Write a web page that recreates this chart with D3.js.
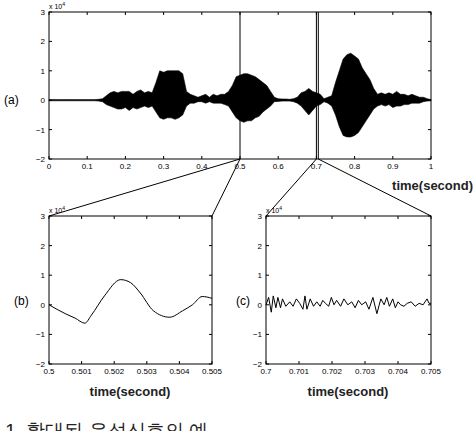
<!DOCTYPE html>
<html><head><meta charset="utf-8">
<script src="https://cdn.jsdelivr.net/npm/d3@7"></script>
<style>body{margin:0;background:#fff}svg{display:block;font-family:"Liberation Sans",Arial,sans-serif}</style>
</head><body><svg id="c" width="474" height="431"></svg>
<script>
// envelope of speech signal (x10^4), t = 0..1 step 0.01
const envUpper = [0.02,0.02,0.02,0.02,0.02,0.02,0.02,0.02,0.02,0.02,0.02,0.02,0.02,0.03,0.05,0.15,0.25,0.3,0.25,0.3,0.3,0.3,0.2,0.3,0.35,0.25,0.3,0.25,0.6,1.0,0.95,1.0,1.0,1.0,1.0,0.9,0.3,0.2,0.15,0.1,0.15,0.2,0.1,0.2,0.15,0.2,0.2,0.3,0.5,0.8,0.85,0.9,0.9,0.85,0.8,0.7,0.6,0.5,0.3,0.1,0.05,0.04,0.04,0.03,0.05,0.1,0.25,0.3,0.4,0.3,0.25,0.2,0.05,0.1,0.15,0.6,1.0,1.4,1.55,1.6,1.5,1.4,1.1,0.9,0.7,0.4,0.2,0.25,0.2,0.25,0.2,0.3,0.2,0.2,0.15,0.2,0.15,0.1,0.1,0.05,0.02];
const envLower = [-0.02,-0.02,-0.02,-0.02,-0.02,-0.02,-0.02,-0.02,-0.02,-0.02,-0.02,-0.02,-0.02,-0.03,-0.05,-0.15,-0.2,-0.25,-0.3,-0.3,-0.25,-0.35,-0.25,-0.3,-0.25,-0.2,-0.25,-0.2,-0.4,-0.6,-0.65,-0.6,-0.6,-0.65,-0.6,-0.5,-0.2,-0.1,-0.1,-0.05,-0.05,-0.1,-0.05,-0.1,-0.1,-0.1,-0.15,-0.2,-0.4,-0.6,-0.7,-0.75,-0.7,-0.7,-0.6,-0.55,-0.4,-0.3,-0.2,-0.05,-0.04,-0.03,-0.03,-0.03,-0.05,-0.1,-0.2,-0.35,-0.5,-0.35,-0.2,-0.15,-0.05,-0.1,-0.2,-0.5,-0.9,-1.2,-1.25,-1.25,-1.2,-1.1,-0.9,-0.7,-0.5,-0.3,-0.2,-0.15,-0.2,-0.15,-0.25,-0.2,-0.2,-0.15,-0.15,-0.1,-0.1,-0.1,-0.05,-0.03,-0.02];
const bTime = [0.5,0.5005,0.5008,0.5011,0.5013,0.5017,0.5022,0.5025,0.5028,0.5032,0.5037,0.5041,0.5044,0.5047,0.505];
const bVal  = [0,-0.3,-0.45,-0.62,-0.35,0.3,0.85,0.75,0.4,-0.2,-0.42,-0.2,0.0,0.28,0.22];
const cTime = [0.7,0.70008,0.70016,0.70022,0.7003,0.70036,0.70044,0.7005,0.7006,0.70072,0.70082,0.70092,0.70102,0.70112,0.70118,0.70124,0.70134,0.70144,0.70154,0.70164,0.70172,0.7018,0.7019,0.70198,0.70206,0.70214,0.70226,0.70236,0.70248,0.7026,0.7027,0.7028,0.7029,0.70302,0.70312,0.70324,0.70336,0.70348,0.70358,0.70366,0.70374,0.70384,0.70392,0.704,0.70408,0.70418,0.70428,0.7044,0.70452,0.70464,0.70476,0.70488,0.70494,0.705];
const cVal  = [0,0.25,-0.25,0.3,-0.1,0.25,-0.1,0.2,-0.05,0.1,-0.05,0.2,0.05,-0.15,0.3,-0.15,0.2,-0.05,0.1,-0.05,0.15,0.05,-0.05,0.25,0.0,0.15,-0.05,0.2,0.0,0.1,-0.1,0.15,0.0,0.1,-0.15,0.25,-0.3,0.2,0.0,0.25,-0.05,0.2,-0.1,0.1,0.0,-0.05,0.05,0.1,-0.05,0.05,0.0,0.2,0.05,0.05];
const yTicks = [-2,-1,0,1,2,3];
const topXTicks = [0,0.1,0.2,0.3,0.4,0.5,0.6,0.7,0.8,0.9,1];
const bXTicks = [0.5,0.501,0.502,0.503,0.504,0.505];
const cXTicks = [0.7,0.701,0.702,0.703,0.704,0.705];
const caption = "그림 1. 확대된 음성신호의 예";

const svg = d3.select("#c");
function panel(x0,x1,y0,y1,xd,xt,fmt){
  const x = d3.scaleLinear().domain(xd).range([x0,x1]);
  const y = d3.scaleLinear().domain([-2,3]).range([y1,y0]);
  const g = svg.append("g");
  g.append("rect").attr("x",x0).attr("y",y0).attr("width",x1-x0).attr("height",y1-y0).attr("fill","none").attr("stroke","#000").attr("stroke-width",1);
  xt.forEach(t=>{
    g.append("line").attr("x1",x(t)).attr("x2",x(t)).attr("y1",y1).attr("y2",y1-3).attr("stroke","#000");
    g.append("line").attr("x1",x(t)).attr("x2",x(t)).attr("y1",y0).attr("y2",y0+3).attr("stroke","#000");
    g.append("text").attr("x",x(t)).attr("y",y1+10).attr("text-anchor","middle").attr("font-size",8).text(fmt(t));
  });
  yTicks.forEach(t=>{
    g.append("line").attr("x1",x0).attr("x2",x0+3).attr("y1",y(t)).attr("y2",y(t)).attr("stroke","#000");
    g.append("line").attr("x1",x1).attr("x2",x1-3).attr("y1",y(t)).attr("y2",y(t)).attr("stroke","#000");
    g.append("text").attr("x",x0-4).attr("y",y(t)+3).attr("text-anchor","end").attr("font-size",8).text(t<0?"\u2212"+(-t):t);
  });
  g.append("text").attr("x",x0).attr("y",y0-3).attr("font-size",7).html('x 10<tspan dy="-3" font-size="5">4</tspan>');
  return {x,y,g};
}
const fmt = d=>d===0?"0":d===1?"1":String(d);
const A = panel(49,431,12,159,[0,1],topXTicks,fmt);
const tA = d3.range(envUpper.length).map(i=>i/100);
A.g.append("path").datum(tA.map((t,i)=>[t,envUpper[i],envLower[i]]))
 .attr("d",d3.area().x(d=>A.x(d[0])).y0(d=>A.y(d[2])).y1(d=>A.y(d[1])))
 .attr("fill","#000").attr("stroke","#000").attr("stroke-width",0.6);
[0.5,0.7,0.705].forEach(t=>A.g.append("line").attr("x1",A.x(t)).attr("x2",A.x(t)).attr("y1",12).attr("y2",159).attr("stroke","#000"));
A.g.append("text").attr("x",4).attr("y",104).attr("font-size",12).text("(a)");
A.g.append("text").attr("x",473).attr("y",190).attr("text-anchor","end").attr("font-size",13).attr("font-weight","bold").attr("fill","#222").text("time(second)");

const B = panel(49,212,216,364,[0.5,0.505],bXTicks,d=>d===0.5?"0.5":d3.format(".3f")(d));
B.g.append("path").datum(bTime.map((t,i)=>[t,bVal[i]])).attr("d",d3.line().x(d=>B.x(d[0])).y(d=>B.y(d[1])).curve(d3.curveMonotoneX)).attr("fill","none").attr("stroke","#000");
B.g.append("text").attr("x",14).attr("y",305).attr("font-size",12).text("(b)");
B.g.append("text").attr("x",130).attr("y",396).attr("text-anchor","middle").attr("font-size",13).attr("font-weight","bold").attr("fill","#222").text("time(second)");

const C = panel(266,431,216,364,[0.7,0.705],cXTicks,d=>d===0.7?"0.7":d3.format(".3f")(d));
C.g.append("path").datum(cTime.map((t,i)=>[t,cVal[i]])).attr("d",d3.line().x(d=>C.x(d[0])).y(d=>C.y(d[1]))).attr("fill","none").attr("stroke","#000");
C.g.append("text").attr("x",236).attr("y",305).attr("font-size",12).text("(c)");
C.g.append("text").attr("x",348).attr("y",396).attr("text-anchor","middle").attr("font-size",13).attr("font-weight","bold").attr("fill","#222").text("time(second)");

// zoom connector lines
[[A.x(0.5),B.x(0.5)],[A.x(0.5),B.x(0.505)],[A.x(0.7),C.x(0.7)],[A.x(0.705),C.x(0.705)]].forEach(([a,b])=>
  svg.append("line").attr("x1",a).attr("y1",159).attr("x2",b).attr("y2",216).attr("stroke","#000"));
svg.append("text").attr("x",-38).attr("y",437).attr("font-size",19).attr("fill","#222").text(caption);
</script></body></html>
